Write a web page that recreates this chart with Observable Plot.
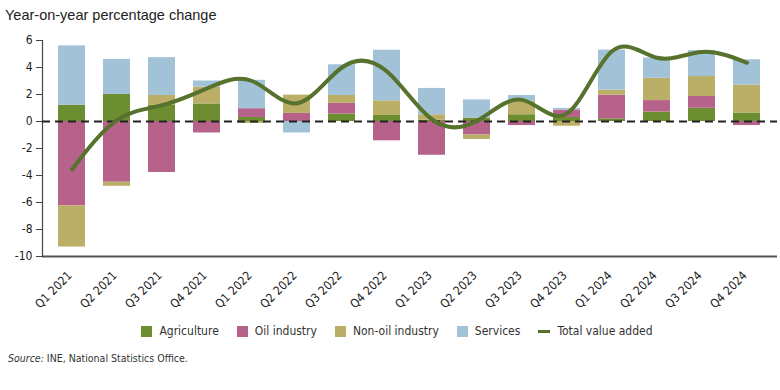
<!DOCTYPE html>
<html>
<head>
<meta charset="utf-8">
<script src="https://cdn.jsdelivr.net/npm/d3@7"></script>
<script src="https://cdn.jsdelivr.net/npm/@observablehq/plot@0.6"></script>
<style>
  html, body { margin: 0; padding: 0; background: #fff; }
  body { width: 780px; height: 390px; overflow: hidden; font-family: 'Liberation Sans Narrow', 'DejaVu Sans Condensed', Roboto, sans-serif; color: #222; }
  #title { height: 28px; box-sizing: border-box; padding: 6px 0 0 5px; font-family: 'Liberation Sans', Arial, sans-serif; font-size: 14.5px; line-height: 18px; color: #222; }
  #legend { height: 26px; display: flex; justify-content: center; align-items: center; font-size: 12px; color: #333; padding-left: 14px; }
  .item { display: flex; align-items: center; margin: 0 9px; }
  .sw { width: 11px; height: 11px; margin-right: 7px; }
  .ln { width: 12px; height: 3px; margin-right: 7px; }
  #source { padding: 8px 0 0 8px; font-size: 10.5px; color: #333; }
  #source i { font-style: italic; }
</style>
</head>
<body>
<div id="title">Year-on-year percentage change</div>
<div id="chart"></div>
<div id="legend"></div>
<div id="source"><i>Source:</i> INE, National Statistics Office.</div>
<script>
const quarters = ["Q1 2021","Q2 2021","Q3 2021","Q4 2021","Q1 2022","Q2 2022","Q3 2022","Q4 2022",
                  "Q1 2023","Q2 2023","Q3 2023","Q4 2023","Q1 2024","Q2 2024","Q3 2024","Q4 2024"];
const sectors = ["Agriculture", "Oil industry", "Non-oil industry", "Services"];
const agriculture = [1.2, 2.0, 1.2, 1.3, 0.3, 0.0, 0.55, 0.45, 0.1, 0.25, 0.5, 0.3, 0.2, 0.7, 0.98, 0.63];
const oilIndustry = [-6.25, -4.5, -3.78, -0.85, 0.65, 0.6, 0.8, -1.43, -2.5, -1.0, -0.3, 0.55, 1.75, 0.85, 0.87, -0.3];
const nonOilIndustry = [-3.05, -0.3, 0.73, 1.25, -0.15, 1.35, 0.58, 1.08, 0.4, -0.33, 1.0, -0.35, 0.37, 1.65, 1.48, 2.07];
const services = [4.4, 2.6, 2.8, 0.45, 2.1, -0.85, 2.27, 3.75, 1.95, 1.35, 0.43, 0.12, 2.97, 1.5, 1.92, 1.87];
const totalValueAdded = [-3.55, 0.1, 1.2, 2.45, 3.0, 1.35, 4.0, 3.7, 0.15, 0.05, 1.6, 0.6, 5.2, 4.72, 5.15, 4.35];
const yTicks = [6, 4, 2, 0, -2, -4, -6, -8, -10];

const colors = {"Agriculture": "#6d8d31", "Oil industry": "#b6628b", "Non-oil industry": "#bbae67", "Services": "#a1c2d7"};
const lineColor = "#56722c";

const seriesValues = [agriculture, oilIndustry, nonOilIndustry, services];
const bars = [];
sectors.forEach((s, i) => quarters.forEach((q, j) => bars.push({quarter: q, sector: s, value: seriesValues[i][j]})));
const totals = quarters.map((q, j) => ({quarter: q, value: totalValueAdded[j]}));

const chart = Plot.plot({
  width: 780,
  height: 290,
  marginTop: 12,
  marginLeft: 42,
  marginRight: 3,
  marginBottom: 62,
  style: {fontFamily: "'Liberation Sans Narrow', 'DejaVu Sans Condensed', Roboto, sans-serif", fontSize: "12px", color: "#222", background: "#fff"},
  x: {domain: quarters, paddingInner: 0.39, paddingOuter: 0.22, label: null},
  y: {domain: [-10, 6], label: null},
  color: {domain: sectors, range: sectors.map(s => colors[s])},
  marks: [
    Plot.barY(bars, {x: "quarter", y: "value", fill: "sector", order: sectors}),
    Plot.ruleY([-10], {stroke: "#555", strokeWidth: 2}),
    Plot.frame({anchor: "left", stroke: "#444", strokeWidth: 1.2}),
    Plot.axisY({ticks: yTicks, tickSize: 6, tickPadding: 4, tickFormat: d => String(d), fontSize: 12, stroke: "#444"}),
    Plot.axisX({tickSize: 0, tickRotate: -45, tickPadding: 17, dx: -2, fontSize: 12}),
    Plot.ruleY([0], {stroke: "#222", strokeWidth: 2, strokeDasharray: "8,5"}),
    Plot.line(totals, {x: "quarter", y: "value", curve: "natural", stroke: lineColor, strokeWidth: 4, strokeLinecap: "round"})
  ]
});
document.getElementById("chart").appendChild(chart);

const legend = document.getElementById("legend");
sectors.forEach(s => {
  const it = document.createElement("div"); it.className = "item";
  it.innerHTML = `<span class="sw" style="background:${colors[s]}"></span><span>${s}</span>`;
  legend.appendChild(it);
});
const it = document.createElement("div"); it.className = "item";
it.innerHTML = `<span class="ln" style="background:${lineColor}"></span><span>Total value added</span>`;
legend.appendChild(it);
</script>
</body>
</html>
